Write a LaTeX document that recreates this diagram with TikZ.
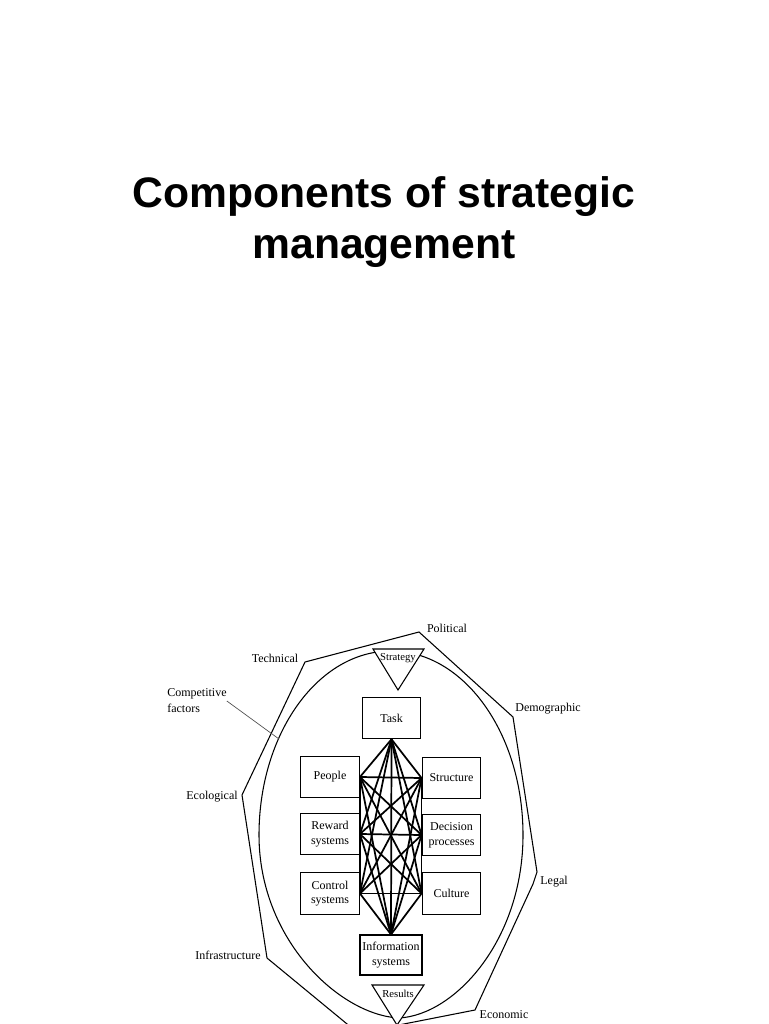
\documentclass[tikz,border=0pt]{standalone}
\usepackage{fontspec}
\setmainfont{Liberation Serif}
\newfontfamily\headfont{Liberation Sans}

\tikzset{
	box/.style={draw, line width=0.9pt, fill=white, minimum width=44pt, minimum height=31pt, inner sep=1pt, align=center, font=\fontsize{9}{11}\selectfont},
	factor/.style={font=\fontsize{9}{12}\selectfont, inner sep=0pt, text depth=0pt},
	link/.style={line width=1.3pt},
	rim/.style={line width=0.8pt},
	heading/.style={font=\headfont\bfseries\fontsize{32}{38}\selectfont, anchor=base}
}

\begin{document}
\begin{tikzpicture}[x=0.75pt,y=-0.75pt]
	\useasboundingbox (0,0) rectangle (768,1024);
	\clip (0,0) rectangle (768,1024);
	
	%TITOLO
	\node[heading] (title) at (384,207) {Components of strategic};
	\node[heading] (titletwo) at (384,258) {management};
	
	%AMBIENTE
	%linee
	\draw[rim] (305,662) -- (419,632) -- (513,717) -- (537,872) -- (533,884) -- (475,1010) -- (358,1033) -- (267,958) -- (242,795) -- cycle;
	
	%ORGANIZZAZIONE
	%linee
	\draw[rim] (259,835) arc (180:360:132 and 184) .. controls (523,940) and (455,1015) .. (399,1018) .. controls (340,1015) and (259,940) .. cycle;
	
	\draw[rim, fill=white] (373,649) -- (424,649) -- (398,690) -- cycle;
	\node[font=\fontsize{8}{9}\selectfont] (strategy) at (398,658) {Strategy};
	\draw[rim, fill=white] (372,985) -- (424,985) -- (397,1025) -- cycle;
	\node[font=\fontsize{8}{9}\selectfont] (results) at (398,994) {Results};
	
	%componenti
	\node[box] (task) at (391.5,718) {Task};
	\node[box] (people) at (330,777) {People};
	\node[box] (structure) at (451.5,778) {Structure};
	\node[box] (reward) at (330,834) {Reward\\systems};
	\node[box] (decision) at (451.5,835) {Decision\\processes};
	\node[box] (control) at (330,893.5) {Control\\systems};
	\node[box] (culture) at (451.5,893.5) {Culture};
	\node[box, minimum width=46.5pt, minimum height=30pt] (info) at (391,955) {Information\\systems};
	
	\def\ends{task.south,people.east,structure.west,reward.east,decision.west,control.east,culture.west,info.north}
	\foreach \a [count=\i] in \ends
		\foreach \b [count=\j] in \ends
			{\ifnum\j>\i \draw[link] (\a) -- (\b); \fi}
	
	%fattori
	\node[factor] (political) at (447,628) {Political};
	\node[factor] (technical) at (275,658) {Technical};
	\node[factor, align=left, anchor=west] (competitive) at (167,701) {Competitive\\factors};
	\coordinate (rimpoint) at (279,739);
	\draw[line width=0.5pt, black!70] (competitive.east) -- (rimpoint);
	\node[factor] (demographic) at (548,707) {Demographic};
	\node[factor] (ecological) at (212,795) {Ecological};
	\node[factor] (legal) at (554,880) {Legal};
	\node[factor] (infrastructure) at (228,955) {Infrastructure};
	\node[factor] (economic) at (504,1015) {Economic};
	
\end{tikzpicture}
\end{document}
